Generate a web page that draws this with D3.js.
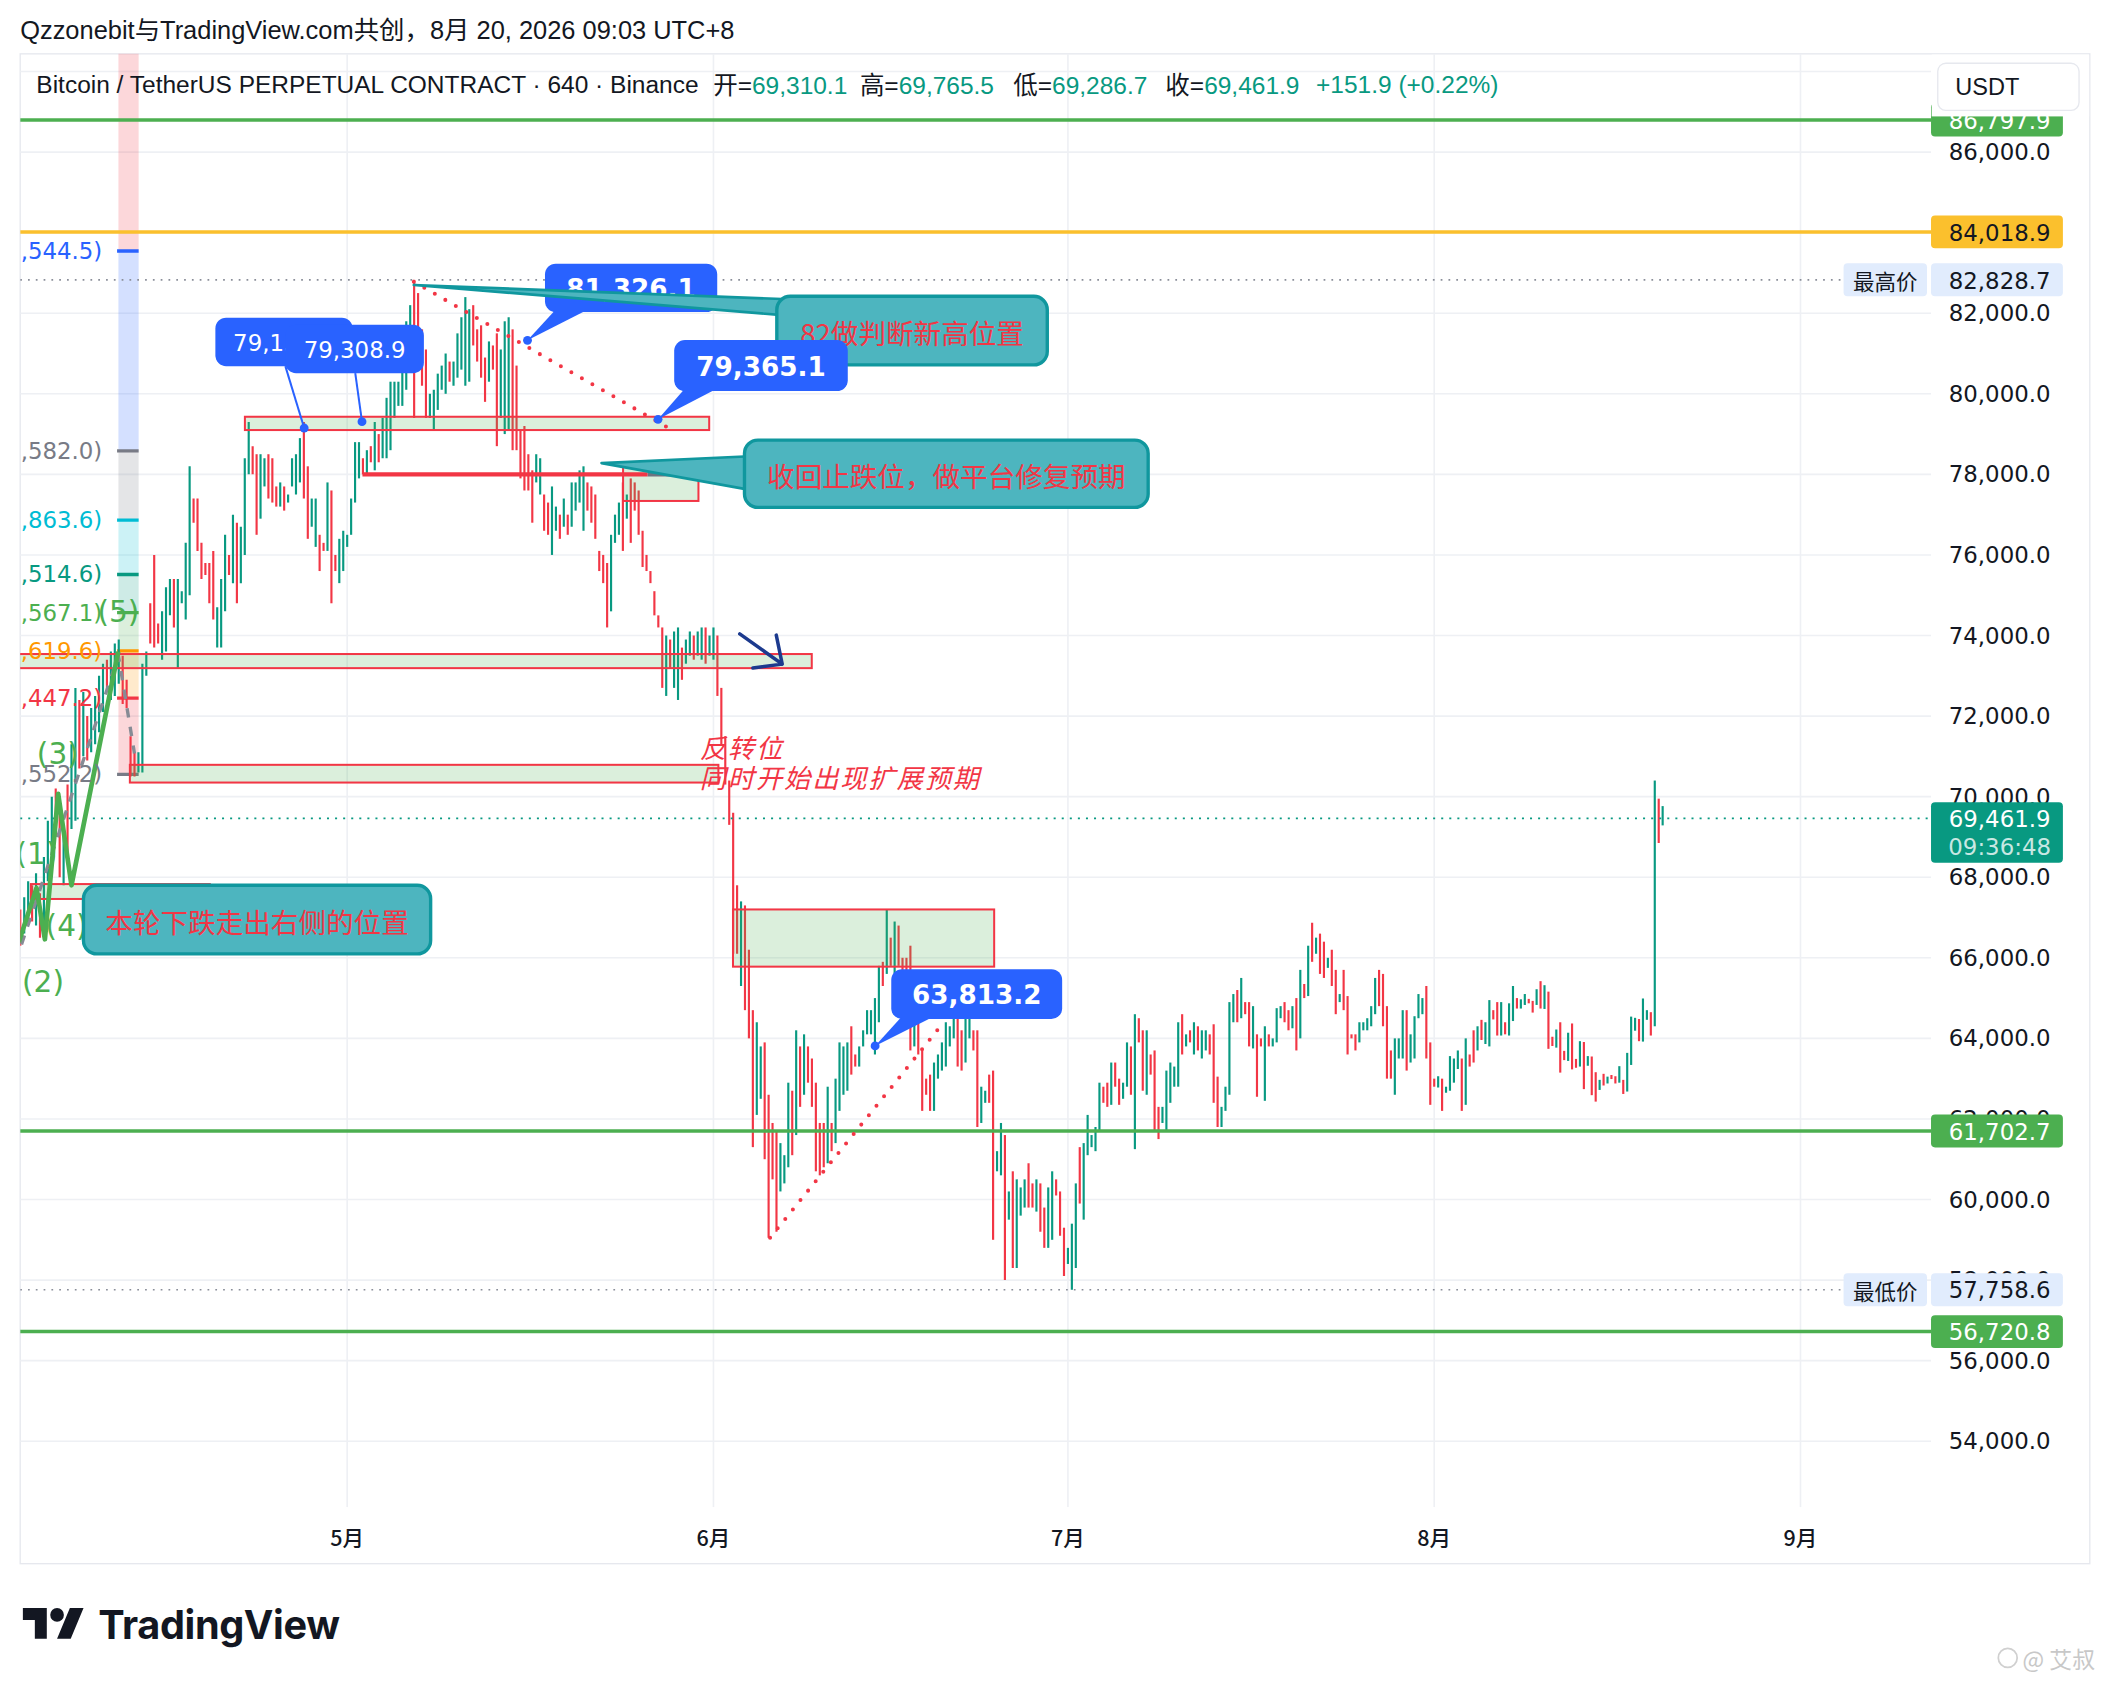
<!DOCTYPE html>
<html><head><meta charset="utf-8">
<script src="https://cdn.jsdelivr.net/npm/d3@7"></script>
<style>
html,body{margin:0;padding:0;background:#fff;}
svg{display:block;}
</style></head><body>
<script>
// ================= DATA =================
const titleText = "Qzzonebit与TradingView.com共创，8月 20, 2026 09:03 UTC+8";
const symbolText = "Bitcoin / TetherUS PERPETUAL CONTRACT · 640 · Binance";
const ohlcKeys = ["开", "高", "低", "收"];
const lastBar = {o: 69310.1, h: 69765.5, l: 69286.7, c: 69461.9};
const changeText = "+151.9 (+0.22%)";
const countdownText = "09:36:48";
const currencyText = "USDT";
const priceTicks = [54000, 56000, 58000, 60000, 62000, 64000, 66000, 68000, 70000, 72000, 74000, 76000, 78000, 80000, 82000, 84000, 86000, 88000];
const monthTicks = [["2026-05-01", "5月"], ["2026-06-01", "6月"], ["2026-07-01", "7月"], ["2026-08-01", "8月"], ["2026-09-01", "9月"]];
const highMark = {p: 82828.7, label: "最高价"};
const lowMark = {p: 57758.6, label: "最低价"};

// bars: [high, low, up(1)/down(0)], one bar every 8 hours, month chunks start at monthStarts
const monthStarts = ["2026-04-03T08:00", "2026-05-01T00:00", "2026-06-01T00:00", "2026-07-01T00:00", "2026-08-01T00:00"];
const barsApr = [
[67200,66300,0],[67500,66600,1],[67900,67000,1],[67800,66900,0],[68100,66800,1],[67600,66500,0],[68500,66600,1],[69400,67900,1],[70000,68600,1],[70200,69000,0],
[69600,68000,0],[69200,67800,1],[70300,68400,0],[71300,69200,1],[72700,69400,1],[72400,70700,0],[72600,71000,1],[72000,70900,0],[72200,71100,1],[72500,71300,1],
[73000,71600,1],[73300,72100,1],[73400,72600,0],[73600,72400,1],[73800,72500,1],[73900,72800,1],[73500,72300,0],[72900,72200,0],[71500,70500,0],[71100,70500,0],
[71100,70600,1],[73300,70600,1],[73600,73000,1],[74800,73800,0],[76000,73700,0],[74300,73800,0],[74600,73400,1],[75200,73600,1],[75400,74500,1],[75400,74200,0],
[75400,73200,1],[75100,74800,1],[76300,74400,1],[78200,75000,1],[77400,76800,0],[77400,76100,0],[76300,75400,0],[75800,75500,0],[75800,74800,0],[76100,74400,0],
[74700,73700,1],[75400,73700,1],[76500,74600,1],[76000,75500,0],[77000,75300,1],[76800,74800,0],[76700,75300,1],[78400,76000,1],[79300,78000,1],[78700,78000,0],
[78500,76500,0],[78500,76900,1],[78400,77700,1],[78500,77400,0],[78400,77300,0],[77700,77200,0],[77800,77200,1],[77700,77100,0],[77500,77300,1],[78400,77700,1],
[78500,77500,1],[78900,77800,1],[79300,77400,0],[78200,76400,0],[77400,76700,1],[77400,76200,1],[76500,75600,0],[76300,76100,0],[77800,76100,1],[77600,74800,0],
[76000,75600,0],[76400,75300,1],[76600,75600,1]];
const barsMay = [
[76500,76200,1],[77400,76500,1],[78800,77300,1],[78800,77900,1],[78400,78000,0],[78600,78000,1],[78700,78300,0],[79300,78100,1],[79000,78300,0],[79400,78400,1],
[79900,78400,1],[80300,78600,1],[80300,79400,1],[80300,79700,1],[81000,79700,1],[81800,80100,1],[82200,81100,1],[82828.7,79400,0],[82500,81300,0],[81600,80200,0],
[81100,79400,0],[80000,79400,1],[80100,79100,1],[80500,79600,1],[80700,80100,1],[81000,80000,1],[80800,80300,0],[80800,80200,1],[81500,80400,1],[81900,80600,1],
[82400,80200,1],[82100,80300,1],[82200,81200,0],[81600,80800,0],[81700,80400,0],[80900,79800,0],[81300,80300,1],[81200,80600,0],[81500,78700,0],[81100,79400,1],
[81800,79000,1],[81900,79100,1],[81600,78600,0],[80700,78600,0],[79100,77900,0],[79200,77600,0],[78500,77600,0],[78100,76800,0],[78500,77800,1],[78400,77500,1],
[77500,76600,0],[77300,76500,0],[77700,76000,1],[77200,76600,1],[77000,76400,0],[77400,76700,1],[77000,76500,0],[77800,76700,1],[77800,77100,1],[78100,77300,1],
[78200,76600,1],[77800,77100,0],[77700,76800,0],[77500,76400,0],[76100,75600,0],[76000,75300,0],[75800,74200,0],[76500,74600,1],[77000,76300,1],[77300,76500,1],
[77800,76100,0],[77500,76900,1],[77900,76300,0],[77800,77100,0],[77600,76500,0],[76600,75700,0],[76000,75600,0],[75600,75300,0],[75100,74500,0],[74500,74200,0],
[74200,72700,0],[74000,72500,1],[73900,73200,0],[74100,72700,1],[74200,72400,1],[73700,72900,0],[73900,73300,1],[74100,73500,1],[74000,73400,0],[74100,73500,1],
[74200,73400,1],[74200,73300,0],[74000,73500,1]];
const barsJun = [
[74200,73400,1],[74000,72500,0],[72700,71300,0],[71500,70300,0],[70400,69300,0],[69600,66100,0],[67800,66100,0],[67400,65300,1],[67300,64700,0],[66200,64000,0],
[64700,61300,0],[64400,62100,1],[63800,62500,1],[63900,61000,0],[62600,59050,0],[61900,60500,0],[61700,59200,0],[61400,60200,1],[61100,60400,1],[62900,60800,1],
[62700,61100,0],[64200,61600,1],[63800,62300,0],[64100,62600,1],[63800,62900,0],[63500,62300,0],[62900,60700,0],[61900,60600,0],[61900,60800,0],[62800,60900,1],
[61900,61200,0],[63000,61400,1],[63900,62200,1],[63800,62600,1],[63900,62700,1],[64300,63100,0],[63600,63300,0],[63800,63300,1],[64200,63800,1],[64700,64100,1],
[64700,64100,1],[65000,63600,1],[65800,64400,1],[65900,65300,0],[67200,65600,1],[66500,65800,0],[66900,65600,1],[66800,65800,0],[66000,65600,0],[66000,64400,0],
[66300,63700,0],[64500,63800,1],[64600,63600,0],[63700,62200,0],[63000,62600,0],[63100,62200,0],[63400,62200,1],[63600,63000,1],[63900,63200,1],[64400,63300,1],
[64300,63800,1],[64500,64000,1],[64600,63300,0],[64200,63200,0],[64600,63400,1],[64500,64000,1],[64200,63700,0],[64200,61800,0],[62800,61900,1],[62700,62400,1],
[63100,62400,0],[63200,59000,0],[61200,60700,1],[61900,60600,1],[61600,58000,0],[60200,59500,1],[60700,58300,0],[60500,58300,1],[60300,59600,1],[60500,59800,1],
[60900,59800,0],[60400,59800,0],[60500,59700,1],[60400,59200,0],[59800,58800,0],[60300,58800,1],[60700,59000,1],[60500,60100,0],[60200,59100,0],[59300,58100,0]];
const barsJul = [
[58800,58400,1],[59400,57758.6,1],[60400,58300,1],[61300,59900,0],[61400,59500,1],[62100,61100,1],[61600,61300,1],[61800,61200,1],[62900,61700,1],[62800,62400,0],
[62900,62300,0],[63400,62350,1],[63400,62800,0],[63000,62350,0],[62900,62500,1],[63900,62800,1],[63800,62600,0],[64600,61250,1],[64500,63900,0],[64200,62700,0],
[64200,62600,1],[63600,63100,0],[63700,61700,0],[62300,61500,0],[62300,61900,1],[63200,61700,1],[63400,62400,1],[63300,62800,1],[64400,62800,1],[64600,63600,0],
[64100,63800,1],[64200,63900,0],[64400,63600,1],[64300,63700,0],[64200,63500,1],[64200,63700,1],[64100,63600,0],[64350,62400,0],[63050,61800,0],[62300,61800,1],
[62800,62200,1],[64900,62600,1],[65100,64400,1],[65200,64400,0],[65500,64500,1],[64900,64600,0],[64900,63800,0],[64800,63750,1],[64100,62550,0],[64000,63800,0],
[64300,62450,1],[64100,63800,0],[64000,63800,1],[64750,63900,1],[64800,64500,1],[64900,64400,0],[64700,64200,0],[64800,64250,1],[65000,63700,0],[65700,64000,1],
[65350,65000,0],[66300,65050,1],[66870,65900,0],[66500,66100,1],[66600,65600,0],[66400,65500,0],[66000,65750,1],[66200,65300,0],[65700,64600,0],[65100,64900,1],
[65700,64700,0],[65050,63600,0],[64100,64000,0],[64100,63700,0],[64400,63900,1],[64400,64200,1],[64500,64200,1],[64800,64300,1],[65500,64600,1],[65700,64800,0],
[65600,64300,0],[64800,63000,0],[63700,63000,0],[64000,62600,1],[64000,63500,1],[64700,63500,1],[64700,63200,0],[64100,63400,1],[64550,63500,1],[65100,64500,1],
[65000,64600,1],[65300,63500,0],[63900,62350,0]];
const barsAug = [
[63000,62800,0],[63060,62780,1],[63000,62200,0],[62800,62650,1],[63560,62700,1],[63500,62900,1],[63700,63240,1],[63500,62200,0],[64000,62350,1],[63600,63300,0],
[64200,63400,0],[64300,63700,1],[64460,63960,0],[64400,63860,1],[64950,63800,1],[64700,64470,0],[64900,64070,0],[64900,64070,1],[64400,64100,0],[64870,64070,1],
[65300,64430,1],[65000,64740,0],[64970,64740,1],[65100,64830,1],[64980,64870,0],[64930,64640,0],[65220,64830,1],[65420,64740,0],[65320,64730,1],[65160,63740,0],
[64040,63810,0],[64220,63770,1],[64400,63150,0],[63690,63460,0],[64140,63440,1],[64370,63230,0],[63490,63270,0],[63930,63300,1],[63910,62740,0],[63560,63320,1],
[63550,62590,0],[63160,62430,0],[62970,62720,1],[63120,62830,0],[63050,62880,1],[63090,62990,0],[63060,62880,0],[63310,62900,1],[62970,62620,0],[63640,62680,1],
[64540,63340,1],[64510,64190,1],[64480,63930,0],[64990,63920,1],[64700,64460,1],[64650,64070,0],[70400,64300,1],[69950,68850,0],[69765.5,69286.7,1]];

// horizontal levels
const hLevels = [
  {p: 86797.9, color: "#4caf50", fg: "#ffffff"},
  {p: 84018.9, color: "#fbc02d", fg: "#131722"},
  {p: 61702.7, color: "#4caf50", fg: "#ffffff"},
  {p: 56720.8, color: "#4caf50", fg: "#ffffff"}
];
// fib extension levels (top to bottom)
const fibLevels = [
  {v: 91574.3, label: "2.618(91,574.3)", color: "#f23645"},
  {v: 83544.5, label: "1.618(83,544.5)", color: "#2962ff"},
  {v: 78582.0, label: "1(78,582.0)", color: "#787b86"},
  {v: 76863.6, label: "0.786(76,863.6)", color: "#00bcd4"},
  {v: 75514.6, label: "0.618(75,514.6)", color: "#089981"},
  {v: 74567.1, label: "0.5(74,567.1)", color: "#4caf50"},
  {v: 73619.6, label: "0.382(73,619.6)", color: "#ff9800"},
  {v: 72447.2, label: "0.236(72,447.2)", color: "#f23645"},
  {v: 70552.2, label: "0(70,552.2)", color: "#787b86"}
];
const fibSpan = ["2026-04-11T15:20", "2026-04-13T08:24"];
// rectangles [t1, t2, top price, bottom price]
const zones = [
  ["2026-04-22T08:15", "2026-05-31T15:20", 79430, 79100],
  ["2026-05-24T08:25", "2026-05-30T17:30", 78220, 77340],
  ["2026-03-28T00:00", "2026-06-09T07:40", 73540, 73190],
  ["2026-04-12T14:35", "2026-06-01T10:00", 70790, 70350],
  ["2026-06-02T15:40", "2026-06-24T18:10", 67200, 65780],
  ["2026-04-04T05:30", "2026-04-19T09:00", 67830, 67460]
];
const support78 = {p: 78000, t1: "2026-05-02T07:00", t2: "2026-05-26T10:00", t3: "2026-05-31T18:00"};
// elliott wave points
const wavePts = [
  ["2026-04-03T05:00", 66390], ["2026-04-04T17:00", 67730], ["2026-04-05T10:00", 66460],
  ["2026-04-06T13:00", 70070], ["2026-04-07T16:00", 67800], ["2026-04-11T15:00", 73600]
];
const waveLabels = [
  ["(1)", "2026-04-04T17:00", 68570], ["(2)", "2026-04-05T06:15", 65390], ["(3)", "2026-04-06T12:15", 71070],
  ["(4)", "2026-04-07T06:00", 66790], ["(5)", "2026-04-11T15:20", 74580]
];
const altWavePts = [["2026-04-03T10:30", 66330], ["2026-04-11T15:20", 73500], ["2026-04-13T00:00", 71070]];
// dotted trend lines
const trendLines = [
  [["2026-05-06T15:20", 82780], ["2026-05-28T05:00", 79150]],
  [["2026-06-05T19:00", 59050], ["2026-06-20T09:10", 64360]]
];
// callouts
const callouts = [
  {id: "A", text: "本轮下跌走出右侧的位置", t: "2026-04-08T16:20", p: 67800, w: 258, h: 51},
  {id: "B", text: "82做判断新高位置", t: "2026-06-06T08:40", p: 82420, w: 201, h: 51, apex: ["2026-05-06T15:20", 82700], j: [2, 14]},
  {id: "C", text: "收回止跌位，做平台修复预期", t: "2026-06-03T15:00", p: 78850, w: 300, h: 50, apex: ["2026-05-22T12:40", 78280], j: [12, 37]}
];
// price labels
const priceTags = [
  {id: "L3", text: "79,152.3", t: "2026-04-27T08:40", p: 79150, dx: -66, dy: -82, w: 102, h: 36, big: false},
  {id: "L4", text: "79,308.9", t: "2026-05-02T06:05", p: 79308.9, dx: -57, dy: -72, w: 103, h: 36, big: false},
  {id: "L5", text: "63,813.2", t: "2026-06-14T16:20", p: 63813.2, dx: 12, dy: -57, w: 127, h: 37, big: true},
  {id: "L1", text: "81,326.1", t: "2026-05-16T06:15", p: 81326.1, dx: 13, dy: -57, w: 128, h: 36, big: true},
  {id: "L2", text: "79,365.1", t: "2026-05-27T07:25", p: 79365.1, dx: 12, dy: -59, w: 129, h: 38, big: true}
];
const arrowLine = [["2026-06-03T05:20", 74040], ["2026-06-06T19:40", 73290]];
const noteLines = [["反转位", "2026-05-30T20:10", 71220], ["同时开始出现扩展预期", "2026-05-30T20:10", 70500]];

// ================= CHART =================
const W = 1568, H = 1251.4;
const PL = 15, PR = 1435, PT = 40, PB = 1120;
const GREEN = "#089981", RED = "#f23645", BLUE = "#2962ff", TXT = "#131722";
const NUM = "'DejaVu Sans', sans-serif";
const UI = "'Liberation Sans', 'Noto Sans CJK SC', sans-serif";
const CJK = "'Noto Sans CJK SC', sans-serif";
const CALL_FILL = "#4db5bf", CALL_STROKE = "#10979e";
const fmt = d3.format(",.1f");
const BOX_H = 24.5;

const T = s => new Date(s.length <= 10 ? s + "T00:00:00Z" : s + ":00Z");
const x = d3.scaleUtc().domain([T("2026-05-01"), T("2026-09-01")]).range([258, 1338]);
const y = d3.scaleLinear().domain([86000, 54000]).range([113, 1071]);
const BAR_MS = 8 * 3600 * 1000;

const svg = d3.select("body").append("svg")
  .attr("width", 2110).attr("height", 1684).attr("viewBox", `0 0 ${W} ${H}`);
svg.append("defs").append("clipPath").attr("id", "pane")
  .append("rect").attr("x", PL).attr("y", PT).attr("width", PR - PL).attr("height", PB - PT);

// title
svg.append("text").attr("x", 15).attr("y", 22).attr("dominant-baseline", "central")
  .attr("font-family", UI).attr("font-size", 18.9).attr("fill", TXT).text(titleText);

// frame
svg.append("rect").attr("x", 15).attr("y", 40).attr("width", 1538).attr("height", 1122)
  .attr("fill", "none").attr("stroke", "#e6e8ee").attr("stroke-width", 1);

const pane = svg.append("g").attr("clip-path", "url(#pane)");

// grid
pane.append("g").selectAll("line").data(priceTicks).join("line")
  .attr("x1", PL).attr("x2", PR).attr("y1", d => y(d)).attr("y2", d => y(d))
  .attr("stroke", "#eef0f4").attr("stroke-width", 1.2);
pane.append("g").selectAll("line").data(monthTicks).join("line")
  .attr("x1", d => x(T(d[0]))).attr("x2", d => x(T(d[0]))).attr("y1", PT).attr("y2", PB)
  .attr("stroke", "#eef0f4").attr("stroke-width", 1.2);

// fib band
const fx1 = x(T(fibSpan[0])), fx2 = x(T(fibSpan[1]));
const fibG = pane.append("g");
for (let i = 0; i < fibLevels.length - 1; i++) {
  const a = fibLevels[i], b = fibLevels[i + 1];
  fibG.append("rect").attr("x", fx1).attr("width", fx2 - fx1)
    .attr("y", y(a.v)).attr("height", y(b.v) - y(a.v))
    .attr("fill", a.color).attr("fill-opacity", 0.2);
}
fibG.selectAll("line").data(fibLevels).join("line")
  .attr("x1", fx1 - 1).attr("x2", fx2).attr("y1", d => y(d.v)).attr("y2", d => y(d.v))
  .attr("stroke", d => d.color).attr("stroke-width", 2.5);

// bars
const allBars = [barsApr, barsMay, barsJun, barsJul, barsAug].flatMap((arr, k) =>
  arr.map((d, i) => ({t: new Date(+T(monthStarts[k]) + i * BAR_MS), h: d[0], l: d[1], up: d[2] === 1})));
pane.append("g").selectAll("line").data(allBars).join("line")
  .attr("x1", d => x(d.t)).attr("x2", d => x(d.t))
  .attr("y1", d => y(d.h)).attr("y2", d => Math.max(y(d.l), y(d.h) + 1.5))
  .attr("stroke", d => d.up ? GREEN : RED).attr("stroke-width", 1.6);

// zones
pane.append("g").selectAll("rect").data(zones).join("rect")
  .attr("x", d => x(T(d[0]))).attr("y", d => y(d[2]))
  .attr("width", d => x(T(d[1])) - x(T(d[0]))).attr("height", d => y(d[3]) - y(d[2]))
  .attr("fill", "rgba(76,175,80,0.2)").attr("stroke", RED).attr("stroke-width", 1.5);

// 78k support line
pane.append("line").attr("x1", x(T(support78.t2))).attr("x2", x(T(support78.t3)))
  .attr("y1", y(support78.p)).attr("y2", y(support78.p)).attr("stroke", "#6f7380").attr("stroke-width", 3);
pane.append("line").attr("x1", x(T(support78.t1))).attr("x2", x(T(support78.t2)))
  .attr("y1", y(support78.p)).attr("y2", y(support78.p)).attr("stroke", RED).attr("stroke-width", 3);

// horizontal levels
pane.append("g").selectAll("line").data(hLevels).join("line")
  .attr("x1", PL).attr("x2", PR).attr("y1", d => y(d.p)).attr("y2", d => y(d.p))
  .attr("stroke", d => d.color).attr("stroke-width", 2.6);

// high / low dotted
[highMark, lowMark].forEach(m => {
  pane.append("line").attr("x1", PL).attr("x2", 1370).attr("y1", y(m.p)).attr("y2", y(m.p))
    .attr("stroke", "#8a8e99").attr("stroke-width", 1.2).attr("stroke-dasharray", "1.3,4.5");
});
// current price dotted
pane.append("line").attr("x1", PL).attr("x2", PR).attr("y1", y(lastBar.c)).attr("y2", y(lastBar.c))
  .attr("stroke", GREEN).attr("stroke-width", 1.4).attr("stroke-dasharray", "1.5,4.5");

// dotted trend lines
trendLines.forEach(tl => {
  pane.append("line").attr("x1", x(T(tl[0][0]))).attr("y1", y(tl[0][1]))
    .attr("x2", x(T(tl[1][0]))).attr("y2", y(tl[1][1]))
    .attr("stroke", RED).attr("stroke-width", 3).attr("stroke-linecap", "round").attr("stroke-dasharray", "0,9");
});

// waves
const lineGen = d3.line().x(d => x(T(d[0]))).y(d => y(d[1]));
pane.append("path").attr("d", lineGen(altWavePts)).attr("fill", "none")
  .attr("stroke", "#878b95").attr("stroke-width", 2.5).attr("stroke-dasharray", "7,7");
pane.append("path").attr("d", lineGen(wavePts)).attr("fill", "none")
  .attr("stroke", "#4caf50").attr("stroke-width", 3.5).attr("stroke-linejoin", "round");

// fib labels
pane.append("g").selectAll("text").data(fibLevels.slice(1)).join("text")
  .attr("x", fx1 - 12).attr("y", d => y(d.v)).attr("dominant-baseline", "central")
  .attr("text-anchor", "end").attr("font-family", NUM).attr("font-size", 17)
  .attr("fill", d => d.color).text(d => d.label);

// wave labels
pane.append("g").selectAll("text").data(waveLabels).join("text")
  .attr("x", d => x(T(d[1]))).attr("y", d => y(d[2])).attr("dominant-baseline", "central")
  .attr("text-anchor", "middle").attr("font-family", NUM).attr("font-size", 22)
  .attr("fill", "#4caf50").text(d => d[0]);

// helpers
function drawCallout(c) {
  const bx = x(T(c.t)), by = y(c.p);
  const g = pane.append("g");
  if (c.apex) {
    const ax = x(T(c.apex[0])), ay = y(c.apex[1]);
    g.append("path").attr("d", `M${ax},${ay}L${bx + 4},${by + c.j[0]}L${bx + 4},${by + c.j[1]}Z`)
      .attr("fill", CALL_FILL).attr("stroke", CALL_STROKE).attr("stroke-width", 2).attr("stroke-linejoin", "round");
  }
  g.append("rect").attr("x", bx).attr("y", by).attr("width", c.w).attr("height", c.h).attr("rx", 10)
    .attr("fill", CALL_FILL).attr("stroke", CALL_STROKE).attr("stroke-width", 2.5);
  g.append("text").attr("x", bx + c.w / 2).attr("y", by + c.h / 2 + 1).attr("dominant-baseline", "central")
    .attr("text-anchor", "middle").attr("font-family", CJK).attr("font-size", 20.5).attr("fill", RED).text(c.text);
}
function drawTag(L) {
  const px = x(T(L.t)), py = y(L.p);
  const bx = px + L.dx, by = py + L.dy;
  const g = pane.append("g");
  if (L.big) {
    g.append("path").attr("d", `M${bx + 8},${by + L.h - 2}L${bx + 32},${by + L.h - 2}L${px},${py}Z`).attr("fill", BLUE);
  } else {
    g.append("line").attr("x1", bx + 52).attr("y1", by + L.h).attr("x2", px).attr("y2", py)
      .attr("stroke", BLUE).attr("stroke-width", 1.5);
  }
  g.append("rect").attr("x", bx).attr("y", by).attr("width", L.w).attr("height", L.h).attr("rx", 8).attr("fill", BLUE);
  g.append("text").attr("x", bx + L.w / 2).attr("y", by + L.h / 2 + 1).attr("dominant-baseline", "central")
    .attr("text-anchor", "middle").attr("font-family", NUM).attr("font-size", L.big ? 19.5 : 17)
    .attr("font-weight", L.big ? "bold" : "normal").attr("fill", "#ffffff").text(L.text);
  g.append("circle").attr("cx", px).attr("cy", py).attr("r", 3.3).attr("fill", BLUE);
}
const tagById = id => priceTags.find(d => d.id === id);
const callById = id => callouts.find(d => d.id === id);

drawCallout(callById("A"));
["L3", "L4", "L5", "L1"].forEach(id => drawTag(tagById(id)));
drawCallout(callById("B"));
drawCallout(callById("C"));
drawTag(tagById("L2"));

// arrow
{
  const x1 = x(T(arrowLine[0][0])), y1 = y(arrowLine[0][1]);
  const x2 = x(T(arrowLine[1][0])), y2 = y(arrowLine[1][1]);
  const ang = Math.atan2(y2 - y1, x2 - x1), len = 22, spread = 43 * Math.PI / 180;
  const h1 = [x2 - len * Math.cos(ang - spread), y2 - len * Math.sin(ang - spread)];
  const h2 = [x2 - len * Math.cos(ang + spread), y2 - len * Math.sin(ang + spread)];
  pane.append("path").attr("d", `M${x1},${y1}L${x2},${y2}M${h1[0]},${h1[1]}L${x2},${y2}L${h2[0]},${h2[1]}`)
    .attr("fill", "none").attr("stroke", "#1c3a8e").attr("stroke-width", 2.6).attr("stroke-linecap", "round").attr("stroke-linejoin", "round");
}
// italic notes
pane.append("g").selectAll("text").data(noteLines).join("text")
  .attr("x", d => x(T(d[1]))).attr("y", d => y(d[2])).attr("dominant-baseline", "central")
  .attr("font-family", CJK).attr("font-size", 19.5).attr("letter-spacing", 1.4).attr("font-style", "italic")
  .attr("fill", RED).text(d => d[0]);

// ---------- price axis ----------
const axisG = svg.append("g").attr("font-family", NUM).attr("font-size", 17);
axisG.selectAll("text").data(priceTicks.filter(p => y(p) > 95 && y(p) < PB)).join("text")
  .attr("x", 1486).attr("y", d => y(d)).attr("dominant-baseline", "central")
  .attr("text-anchor", "middle").attr("fill", TXT).text(d => fmt(d));

function axisBox(p, text, bg, fg) {
  const cy = y(p);
  axisG.append("rect").attr("x", 1435).attr("y", cy - BOX_H / 2).attr("width", 98).attr("height", BOX_H).attr("rx", 3).attr("fill", bg);
  axisG.append("text").attr("x", 1486).attr("y", cy + 0.5).attr("dominant-baseline", "central")
    .attr("text-anchor", "middle").attr("fill", fg).text(text);
}
hLevels.forEach(l => axisBox(l.p, fmt(l.p), l.color, l.fg));
[highMark, lowMark].forEach(m => {
  axisBox(m.p, fmt(m.p), "#e1ecfd", TXT);
  const cy = y(m.p);
  axisG.append("rect").attr("x", 1370).attr("y", cy - BOX_H / 2).attr("width", 62).attr("height", BOX_H).attr("rx", 3).attr("fill", "#e1ecfd");
  axisG.append("text").attr("x", 1401).attr("y", cy + 0.5).attr("dominant-baseline", "central")
    .attr("text-anchor", "middle").attr("font-family", CJK).attr("font-size", 16).attr("fill", TXT).text(m.label);
});
{
  const cy = y(lastBar.c);
  axisG.append("rect").attr("x", 1435).attr("y", cy - 12).attr("width", 98).attr("height", 45).attr("rx", 3).attr("fill", GREEN);
  axisG.append("text").attr("x", 1486).attr("y", cy + 0.5).attr("dominant-baseline", "central")
    .attr("text-anchor", "middle").attr("fill", "#ffffff").text(fmt(lastBar.c));
  axisG.append("text").attr("x", 1486).attr("y", cy + 21).attr("dominant-baseline", "central")
    .attr("text-anchor", "middle").attr("fill", "rgba(255,255,255,0.78)").text(countdownText);
}
// currency box (with white backing that masks the top of the axis)
svg.append("rect").attr("x", 1435.5).attr("y", 40.5).attr("width", 117).attr("height", 46).attr("fill", "#ffffff");
svg.append("rect").attr("x", 1440).attr("y", 47).attr("width", 105).attr("height", 35).attr("rx", 6)
  .attr("fill", "#ffffff").attr("stroke", "#e6e8ee");
svg.append("text").attr("x", 1453).attr("y", 65).attr("dominant-baseline", "central")
  .attr("font-family", UI).attr("font-size", 17.5).attr("fill", TXT).text(currencyText);

// ---------- legend ----------
const hdr = svg.append("g").attr("font-family", UI).attr("font-size", 18.2);
hdr.append("text").attr("x", 27).attr("y", 63).attr("dominant-baseline", "central").attr("fill", TXT).text(symbolText);
const ohlcVals = [lastBar.o, lastBar.h, lastBar.l, lastBar.c];
const ohlcX = [530, 639, 753, 866];
ohlcKeys.forEach((k, i) => {
  const t = hdr.append("text").attr("x", ohlcX[i]).attr("y", 63).attr("dominant-baseline", "central");
  t.append("tspan").attr("fill", TXT).text(k + "=");
  t.append("tspan").attr("fill", GREEN).text(fmt(ohlcVals[i]));
});
hdr.append("text").attr("x", 978).attr("y", 63).attr("dominant-baseline", "central").attr("fill", GREEN).text(changeText);

// ---------- time axis ----------
svg.append("g").selectAll("text").data(monthTicks).join("text")
  .attr("x", d => x(T(d[0]))).attr("y", 1142).attr("dominant-baseline", "central")
  .attr("text-anchor", "middle").attr("font-family", CJK).attr("font-size", 16).attr("font-weight", 500)
  .attr("fill", TXT).text(d => d[1]);

// ---------- branding ----------
const logo = svg.append("g").attr("transform", "translate(17,1189.9) scale(1.27)").attr("fill", TXT);
logo.append("path").attr("d", "M14 22H7V11H0V4h14v18zM28 22h-8l7.5-18h8L28 22z");
logo.append("circle").attr("cx", 20).attr("cy", 8).attr("r", 4);
svg.append("text").attr("x", 73).attr("y", 1218).attr("font-family", "Inter, 'Noto Sans', sans-serif")
  .attr("font-weight", 700).attr("font-size", 29.5).attr("letter-spacing", -0.3).attr("fill", TXT).text("TradingView");
svg.append("circle").attr("cx", 1492).attr("cy", 1232).attr("r", 7).attr("fill", "none").attr("stroke", "#d0d0d0").attr("stroke-width", 1.3);
svg.append("text").attr("x", 1503).attr("y", 1232).attr("dominant-baseline", "central")
  .attr("font-family", CJK).attr("font-size", 17).attr("fill", "#c8c8c8").text("@ 艾叔");
</script>
</body></html>
